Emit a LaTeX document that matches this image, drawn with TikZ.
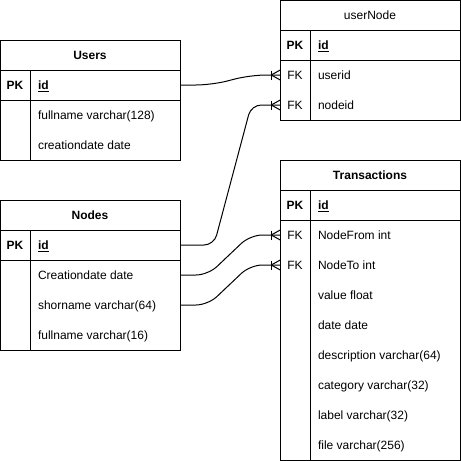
\documentclass[tikz,border=0pt]{standalone}
\usepackage{fontspec}
\setmainfont{Liberation Sans}
\begin{document}
\begin{tikzpicture}[x=1pt,y=-1pt, line width=1pt,
  every node/.style={font=\fontsize{12}{14}\selectfont, text=black, inner sep=0pt, outer sep=0pt, text height=9pt, text depth=0pt},
  rowbox/.style={minimum width=179.5pt, minimum height=30pt},
  keytxt/.style={anchor=center},
  pktxt/.style={anchor=center, font=\fontsize{12}{14}\selectfont\bfseries},
  fieldtxt/.style={anchor=west},
  pkfield/.style={anchor=west, font=\fontsize{12}{14}\selectfont\bfseries},
  headtxt/.style={anchor=center},
  headbold/.style={anchor=center, font=\fontsize{12}{14}\selectfont\bfseries},
  conn/.style={draw, line width=1pt, rounded corners=#1},
  conn/.default=12pt,
  pics/crowfoot/.style={code={
    \draw[line width=1pt] (-9,-4.5) -- (-9,4.5);
    \draw[line width=1pt] (-9,0) -- (0,-5) (-9,0) -- (0,5);
  }}
]
\useasboundingbox (0,0) rectangle (461,461);

% ---------- Users ----------
\draw (0.5,40) rectangle (180,160);
\draw (0.5,70) -- (180,70);
\draw (0.5,100) -- (180,100);
\draw (30,70) -- (30,160);
\node[headbold] (users-h) at (90,55) {Users};
\node[rowbox] (users-id) at (90.25,85) {};
\node[pktxt] (users-id-k) at (15,85) {PK};
\node[pkfield] (users-id-f) at (38,85) {\underline{id}};
\node[fieldtxt] (users-fn) at (38,115) {fullname varchar(128)};
\node[fieldtxt] (users-cd) at (38,145) {creationdate date};

% ---------- userNode ----------
\draw (280,0.5) rectangle (460,120);
\draw (280,30) -- (460,30);
\draw (280,60) -- (460,60);
\draw (310,30) -- (310,120);
\node[headtxt] (un-h) at (370,15) {userNode};
\node[pktxt] (un-id-k) at (295,45) {PK};
\node[pkfield] (un-id-f) at (318,45) {\underline{id}};
\node[rowbox] (un-userid) at (370,75) {};
\node[keytxt] (un-userid-k) at (295,75) {FK};
\node[fieldtxt] (un-userid-f) at (318,75) {userid};
\node[rowbox] (un-nodeid) at (370,105) {};
\node[keytxt] (un-nodeid-k) at (295,105) {FK};
\node[fieldtxt] (un-nodeid-f) at (318,105) {nodeid};

% ---------- Nodes ----------
\draw (0.5,200) rectangle (180,350);
\draw (0.5,230) -- (180,230);
\draw (0.5,260) -- (180,260);
\draw (30,230) -- (30,350);
\node[headbold] (nodes-h) at (90,215) {Nodes};
\node[rowbox] (nodes-id) at (90.25,245) {};
\node[pktxt] (nodes-id-k) at (15,245) {PK};
\node[pkfield] (nodes-id-f) at (38,245) {\underline{id}};
\node[rowbox] (nodes-cd) at (90.25,275) {};
\node[fieldtxt] (nodes-cd-f) at (38,275) {Creationdate date};
\node[rowbox] (nodes-sn) at (90.25,305) {};
\node[fieldtxt] (nodes-sn-f) at (38,305) {shorname varchar(64)};
\node[fieldtxt] (nodes-fn-f) at (38,335) {fullname varchar(16)};

% ---------- Transactions ----------
\draw (280,160) rectangle (460,460);
\draw (280,190) -- (460,190);
\draw (280,220) -- (460,220);
\draw (310,190) -- (310,460);
\node[headbold] (tr-h) at (370,175) {Transactions};
\node[pktxt] (tr-id-k) at (295,205) {PK};
\node[pkfield] (tr-id-f) at (318,205) {\underline{id}};
\node[rowbox] (tr-from) at (370,235) {};
\node[keytxt] (tr-from-k) at (295,235) {FK};
\node[fieldtxt] (tr-from-f) at (318,235) {NodeFrom int};
\node[rowbox] (tr-to) at (370,265) {};
\node[keytxt] (tr-to-k) at (295,265) {FK};
\node[fieldtxt] (tr-to-f) at (318,265) {NodeTo int};
\node[fieldtxt] (tr-val) at (318,295) {value float};
\node[fieldtxt] (tr-date) at (318,325) {date date};
\node[fieldtxt] (tr-desc) at (318,355) {description varchar(64)};
\node[fieldtxt] (tr-cat) at (318,385) {category varchar(32)};
\node[fieldtxt] (tr-lab) at (318,415) {label varchar(32)};
\node[fieldtxt] (tr-file) at (318,445) {file varchar(256)};

% ---------- connectors ----------
\draw[conn=16pt] (users-id.east) -- ++(32,0) -- ([xshift=-30pt]un-userid.west) -- (un-userid.west);
\pic at (un-userid.west) {crowfoot};

\draw[conn=10pt] (nodes-id.east) -- ++(34,0) -- ([xshift=-29pt]un-nodeid.west) -- (un-nodeid.west);
\pic at (un-nodeid.west) {crowfoot};

\draw[conn=12pt] (nodes-cd.east) -- ++(28,0) -- ([xshift=-30pt]tr-from.west) -- (tr-from.west);
\pic at (tr-from.west) {crowfoot};

\draw[conn=12pt] (nodes-sn.east) -- ++(28,0) -- ([xshift=-30pt]tr-to.west) -- (tr-to.west);
\pic at (tr-to.west) {crowfoot};
\end{tikzpicture}
\end{document}
